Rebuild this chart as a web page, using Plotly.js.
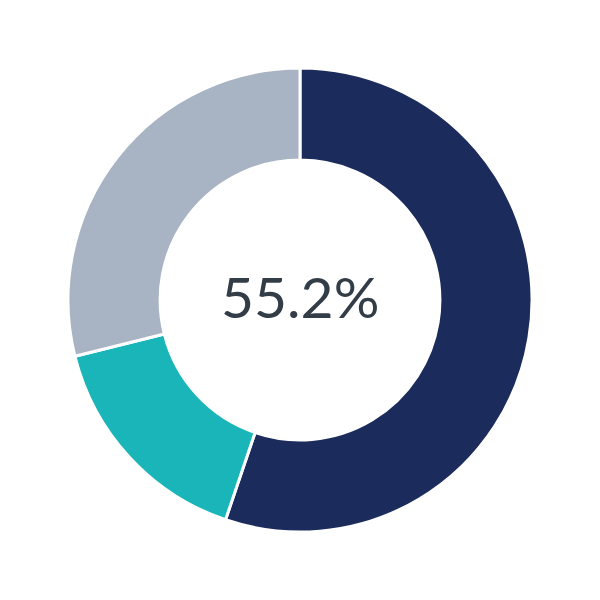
<!DOCTYPE html>
<html>
<head>
<meta charset="utf-8">
<script src="https://cdn.plot.ly/plotly-3.0.1.min.js"></script>
<style>html,body{margin:0;padding:0;background:#fff;}#chart{width:600px;height:600px;}</style>
</head>
<body>
<div id="chart"></div>
<script>
const labels = ["Segment A", "Segment B", "Segment C"];
const values = [55.2, 15.9, 28.9];
const colors = ["#1b2b5b", "#1ab5b9", "#a8b3c3"];
const centerLabel = "55.2%";

Plotly.newPlot("chart", [{
  type: "pie",
  labels: labels,
  values: values,
  hole: 0.603,
  sort: false,
  direction: "clockwise",
  rotation: 0,
  textinfo: "none",
  hoverinfo: "label+percent",
  marker: {colors: colors, line: {color: "#ffffff", width: 3}}
}], {
  width: 600, height: 600,
  margin: {l: 68, r: 68, t: 68, b: 68},
  showlegend: false,
  paper_bgcolor: "#ffffff",
  annotations: [{
    text: centerLabel, x: 0.5, y: 0.5, xref: "paper", yref: "paper", yshift: 4,
    showarrow: false, font: {family: "Lato", size: 57, color: "#333d47"}
  }]
}, {displayModeBar: false, staticPlot: true});
</script>
</body>
</html>
